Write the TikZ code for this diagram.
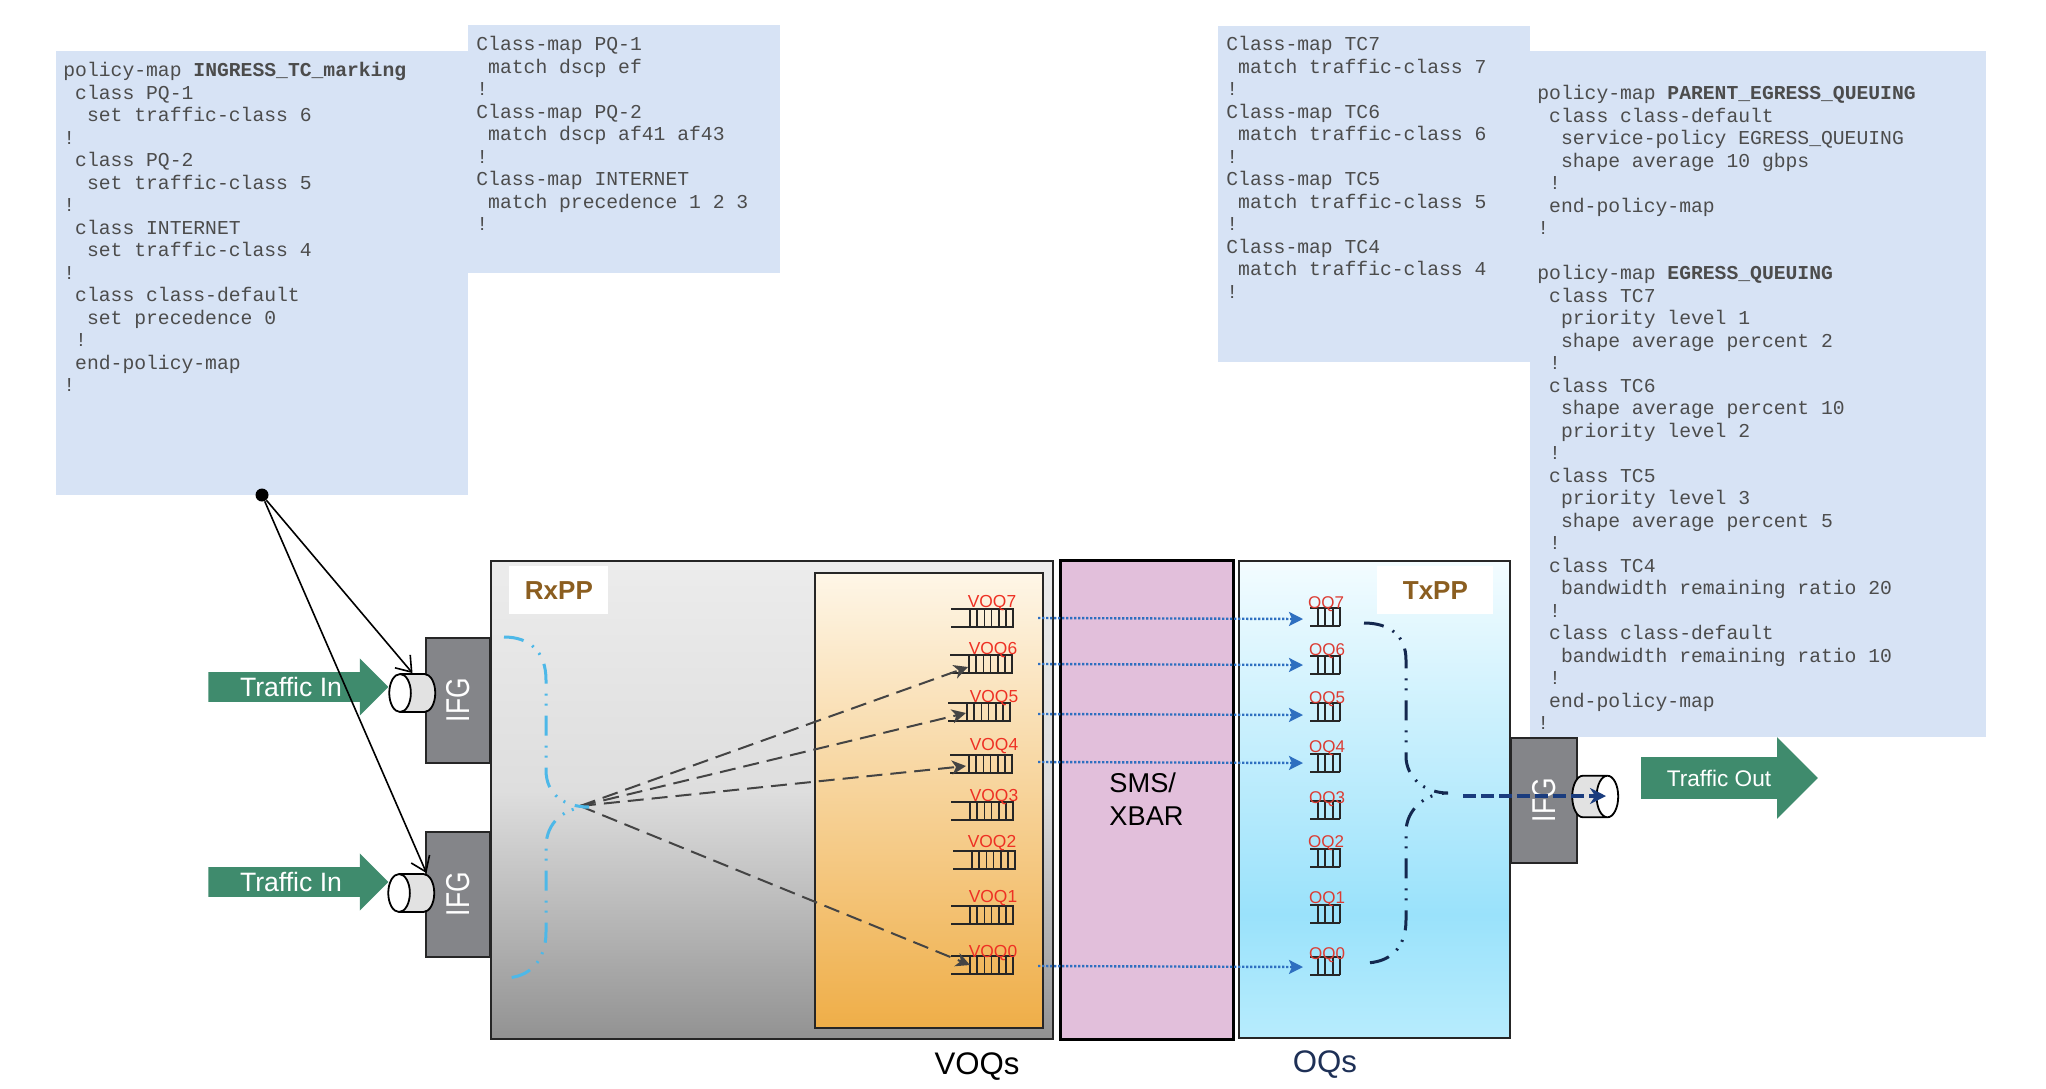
\documentclass[tikz,border=0pt]{standalone}
\usepackage{fontspec}
\setmainfont{Liberation Sans}
\setmonofont{Liberation Mono}
\usepackage{xcolor}
\usepackage{tikz}
\usetikzlibrary{arrows.meta,shapes.geometric,shapes.arrows}
\definecolor{cfgblue}{RGB}{215,227,245}
\definecolor{cfgtext}{RGB}{76,76,76}
\definecolor{flowgreen}{RGB}{63,139,109}
\definecolor{ifggray}{RGB}{132,133,137}
\definecolor{edgegray}{RGB}{38,38,38}
\definecolor{cylgray}{RGB}{226,226,226}
\definecolor{labelbrown}{RGB}{139,94,32}
\definecolor{voqred}{RGB}{238,49,36}
\definecolor{oqred}{RGB}{220,59,50}
\definecolor{smspink}{RGB}{226,191,219}
\definecolor{dotblue}{RGB}{46,111,192}
\definecolor{fanblue}{RGB}{77,184,232}
\definecolor{fannavy}{RGB}{20,40,79}
\definecolor{outnavy}{RGB}{26,60,126}
\definecolor{dashgray}{RGB}{68,68,68}
\definecolor{oqsnavy}{RGB}{30,48,86}
\definecolor{rxtop}{RGB}{236,236,236}
\definecolor{rxmid}{RGB}{222,222,222}
\definecolor{rxbot}{RGB}{146,146,146}
\definecolor{txtop}{RGB}{243,252,255}
\definecolor{txmid}{RGB}{154,226,251}
\definecolor{txbot}{RGB}{183,236,253}
\definecolor{voqtop}{RGB}{254,246,231}
\definecolor{voqbot}{RGB}{239,174,72}
\pgfdeclareverticalshading{rxfade}{100bp}{color(0bp)=(rxbot); color(25bp)=(rxbot); color(51bp)=(rxmid); color(75bp)=(rxtop); color(100bp)=(rxtop)}
\pgfdeclareverticalshading{txfade}{100bp}{color(0bp)=(txbot); color(25bp)=(txbot); color(38bp)=(txmid); color(75bp)=(txtop); color(100bp)=(txtop)}
\tikzstyle{cfgbox} = [rectangle, fill=cfgblue, anchor=north west, inner sep=0pt]
\tikzstyle{cfglines} = [anchor=north west, inner sep=0pt, align=left, text=cfgtext, font=\ttfamily\fontsize{9.85}{11.25}\selectfont]
\tikzstyle{panel} = [rectangle, draw=edgegray, line width=1pt, anchor=north west, inner sep=0pt, outer sep=0pt]
\tikzstyle{tagbox} = [rectangle, fill=white, anchor=north west, inner sep=0pt, minimum height=23.8pt, text=labelbrown, font=\bfseries\fontsize{13}{15}\selectfont]
\tikzstyle{ifg} = [rectangle, draw=edgegray, fill=ifggray, line width=1pt, rotate=90, inner sep=0pt, minimum width=62.5pt, text=white, font=\fontsize{16.5}{18}\selectfont]
\tikzstyle{port} = [cylinder, draw=black, line width=0.9pt, cylinder uses custom fill, cylinder body fill=cylgray, cylinder end fill=white, shape aspect=0.6, inner xsep=0pt, inner ysep=9pt, minimum width=19pt, minimum height=23pt]
\tikzstyle{flow} = [single arrow, fill=flowgreen, text=white, inner xsep=0pt, single arrow head indent=0pt]
\tikzstyle{queue} = [edgegray, line width=0.8pt]
\tikzstyle{feed} = [black, line width=0.8pt, -{Straight Barb[length=7pt,width=10pt]}]
\tikzstyle{voqfeed} = [dashgray, line width=1pt, dash pattern=on 8pt off 4pt, -{Stealth[inset=2pt,length=7pt,width=7pt]}]
\tikzstyle{oqfeed} = [dotblue, line width=1.2pt, dash pattern=on 1.2pt off 0.8pt, -{Stealth[inset=1.5pt,length=7pt,width=7pt]}]
\tikzstyle{fan} = [line width=1.5pt, dash pattern=on 10pt off 5pt on 1pt off 4pt on 1pt off 5pt]
\begin{document}
\begin{tikzpicture}[x=0.5pt,y=-0.5pt]
\useasboundingbox (0,0) rectangle (2046,1088);

% Config panels
\node[cfgbox, minimum width=206pt, minimum height=222pt] (ingress) at (56,51) {};
\node[cfgbox, minimum width=156pt, minimum height=124pt] (classin) at (468,25) {};
\node[cfgbox, minimum width=156pt, minimum height=168pt] (classout) at (1218,26) {};
\node[cfgbox, minimum width=228pt, minimum height=343pt] (egress) at (1530,51) {};

\node[cfglines] (ingresstext) at (63,62) {
policy-map \textbf{INGRESS\_TC\_marking}\\
~class PQ-1\\
~~set traffic-class 6\\
!\\
~class PQ-2\\
~~set traffic-class 5\\
!\\
~class INTERNET\\
~~set traffic-class 4\\
!\\
~class class-default\\
~~set precedence 0\\
~!\\
~end-policy-map\\
!
};
\node[cfglines] (classintext) at (476,36) {
Class-map PQ-1\\
~match dscp ef\\
!\\
Class-map PQ-2\\
~match dscp af41 af43\\
!\\
Class-map INTERNET\\
~match precedence 1 2 3\\
!
};
\node[cfglines] (classouttext) at (1226,36) {
Class-map TC7\\
~match traffic-class 7\\
!\\
Class-map TC6\\
~match traffic-class 6\\
!\\
Class-map TC5\\
~match traffic-class 5\\
!\\
Class-map TC4\\
~match traffic-class 4\\
!
};
\node[cfglines] (egresstext) at (1537,85) {
policy-map \textbf{PARENT\_EGRESS\_QUEUING}\\
~class class-default\\
~~service-policy EGRESS\_QUEUING\\
~~shape average 10 gbps\\
~!\\
~end-policy-map\\
!\\
~\\
policy-map \textbf{EGRESS\_QUEUING}\\
~class TC7\\
~~priority level 1\\
~~shape average percent 2\\
~!\\
~class TC6\\
~~shape average percent 10\\
~~priority level 2\\
~!\\
~class TC5\\
~~priority level 3\\
~~shape average percent 5\\
~!\\
~class TC4\\
~~bandwidth remaining ratio 20\\
~!\\
~class class-default\\
~~bandwidth remaining ratio 10\\
~!\\
~end-policy-map\\
!
};

% Main blocks
\node[panel, shading=rxfade, minimum width=281pt, minimum height=239pt] (rxpp) at (491,561) {};
\node[panel, top color=voqtop, bottom color=voqbot, minimum width=114.2pt, minimum height=227.6pt] (voqs) at (815,573) {};
\node[panel, fill=smspink, draw=black, line width=1.5pt, minimum width=86.5pt, minimum height=239.5pt, align=left, font=\fontsize{13.6}{16.5}\selectfont] (sms) at (1060,560) {SMS/\\XBAR};
\node[panel, shading=txfade, minimum width=135.5pt, minimum height=238.6pt] (txpp) at (1239,561) {};
\node[tagbox, minimum width=49.5pt] (rxtag) at (509,566) {RxPP};
\node[tagbox, minimum width=58pt] (txtag) at (1377,566) {TxPP\hspace{10.5pt}};

% Bottom captions
\node[font=\fontsize{15.6}{18}\selectfont, inner sep=0pt] (voqcap) at (977,1067) {VOQs};
\node[font=\fontsize{15.6}{18}\selectfont, inner sep=0pt, text=oqsnavy] (oqcap) at (1325,1065) {OQs};

% Interface groups and ports
\node[ifg, minimum height=32pt] (ifgone) at (458,700) {\scalebox{.8}[1]{IFG}};
\node[ifg, minimum height=32pt] (ifgtwo) at (458,894) {\scalebox{.8}[1]{IFG}};
\node[ifg, minimum height=33pt] (ifgout) at (1544,800) {\scalebox{.8}[1]{IFG}};
\node[port, shape border rotate=180] (cylone) at (423.5,693) {};
\node[port, shape border rotate=180] (cyltwo) at (422.5,893) {};
\node[port, minimum width=20.8pt] (cylout) at (1584,796.5) {};

% Traffic arrows
\node[flow, inner ysep=2.5pt, text height=9.4pt, text depth=0pt, minimum height=90pt, minimum width=28.7pt, single arrow head extend=6.8pt, font=\fontsize{13.3}{15}\selectfont] (inone) at (291,687) {Traffic In};
\node[flow, inner ysep=2.5pt, text height=9.4pt, text depth=0pt, minimum height=90pt, minimum width=28.7pt, single arrow head extend=6.8pt, font=\fontsize{13.3}{15}\selectfont] (intwo) at (291,882) {Traffic In};
\node[flow, inner ysep=6.2pt, text height=8pt, text depth=0pt, minimum height=88.4pt, minimum width=40.5pt, single arrow head extend=10pt, font=\fontsize{11.3}{13}\selectfont] (outflow) at (1719,778) {Traffic Out};

% VOQ icons
\foreach \n/\x/\y/\lx/\ly in {7/951/609/992/603, 6/950/655/993/650, 5/948/703/994/698, 4/950/755/994/746, 3/951/802/994/797, 2/953/851/992/843, 1/951/906/993/898, 0/951/956/993/953}{
  \draw[queue] (\x,\y) -- ++(62,0) -- ++(0,18) -- ++(-62,0);
  \foreach \k in {0,...,5}
    \draw[queue] ({\x+19+\k*7.2},\y) -- ++(0,18);
  \node[inner sep=0pt, text=voqred, font=\fontsize{8.7}{10}\selectfont] (voqlabel\n) at (\lx,\ly) {VOQ\n};
}
% OQ icons
\foreach \n/\y/\lx/\ly in {7/608/1326/604, 6/656/1327/651, 5/703/1327/699, 4/754/1327/748, 3/801/1327/799, 2/849/1326/843, 1/905/1327/899, 0/957/1327/955}{
  \draw[queue] (1310,\y) -- ++(30,0) -- ++(0,18);
  \draw[queue, line width=1.1pt] (1340,\y+18) -- ++(-30,0);
  \foreach \k in {0,1,2}
    \draw[queue] ({1317.7+\k*7.5},\y) -- ++(0,18);
  \node[inner sep=0pt, text=oqred, font=\fontsize{8.5}{10}\selectfont] (oqlabel\n) at (\lx,\ly) {OQ\n};
}

% Connectors
\node[circle, fill=black, inner sep=0pt, minimum size=6.5pt] (src) at (262,495) {};
\draw[feed] (src) -- ([xshift=-5.5pt]cylone.north);
\draw[feed] (src) -- ([xshift=2pt]cyltwo.north);

\coordinate (rxfan) at (580,806);
\foreach \n/\x/\y in {6/968/667, 5/966/713, 4/966/766, 0/970/965}{
  \coordinate (voqin\n) at (\x,\y);
  \draw[voqfeed] (rxfan) -- (voqin\n);
}
\foreach \n/\ya/\yb in {7/618/619, 6/664/665, 5/714/715, 4/762/763, 0/966/967}{
  \coordinate (voqout\n) at (1038,\ya);
  \coordinate (oqin\n) at (1303,\yb);
  \draw[oqfeed] (voqout\n) -- (oqin\n);
}

% Fan-in curves
\draw[fan, fanblue] (504,637) .. controls (530,637) and (546,652) .. (546,680) -- (546,770) .. controls (546,795) and (565,807) .. (589,807) .. controls (565,807) and (546,822) .. (546,847) -- (546,932) .. controls (546,960) and (530,978) .. (504,978);
\draw[fan, fannavy] (1364,623) .. controls (1390,623) and (1406,636) .. (1406,660) -- (1406,756) .. controls (1406,778) and (1425,793) .. (1448,793) .. controls (1425,793) and (1406,810) .. (1406,832) -- (1406,920) .. controls (1406,948) and (1390,963) .. (1364,963);

\coordinate (txfan) at (1463,796);
\coordinate (cylend) at (1606,796);
\draw[outnavy, line width=2pt, dash pattern=on 6.5pt off 2.5pt, -{Stealth[length=8pt,width=8pt]}] (txfan) -- (cylend);
\end{tikzpicture}
\end{document}
